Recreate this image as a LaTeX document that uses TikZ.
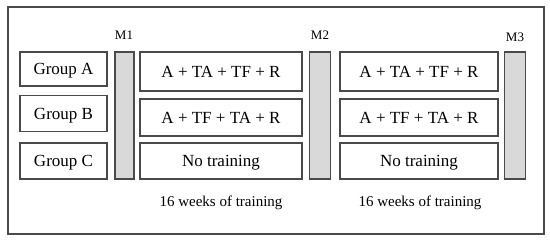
\documentclass[tikz,border=0pt]{standalone}
\usepackage{fontspec}
\setmainfont{Liberation Serif}
\usepackage{tikz}
\definecolor{cizgiGri}{HTML}{4A4A4A}
\definecolor{barGri}{HTML}{D9D9D9}
\tikzset{
  kutu/.style={draw=cizgiGri,line width=1.3pt,inner sep=0pt,text height=11.5pt,text depth=0pt,font=\fontsize{17}{20}\selectfont},
  olcum/.style={draw=cizgiGri,fill=barGri,line width=1.3pt,inner sep=0pt,minimum height=127pt},
  etiket/.style={font=\fontsize{13}{15}\selectfont},
  sure/.style={font=\fontsize{15}{18}\selectfont}
}
\begin{document}
\begin{tikzpicture}[x=1pt,y=-1pt]
\useasboundingbox (0,0) rectangle (550,240);
\draw[cizgiGri,line width=1.3pt] (8,7) rectangle (544,234);
\node[kutu,minimum width=87pt,minimum height=34pt] (grupA) at (63.5,69) {Group A};
\node[kutu,minimum width=87pt,minimum height=36pt] (grupB) at (63.5,113.5) {Group B};
\node[kutu,minimum width=87pt,minimum height=36pt] (grupC) at (63.5,161) {Group C};
\node[olcum,minimum width=19pt] (m1) at (124.5,115.5) {};
\node[olcum,minimum width=21pt] (m2) at (320,115.5) {};
\node[olcum,minimum width=21pt] (m3) at (514.7,115.5) {};
\node[etiket] (m1lbl) at (124,35) {M1};
\node[etiket] (m2lbl) at (320,35) {M2};
\node[etiket] (m3lbl) at (515,37) {M3};
\node[kutu,minimum width=162pt,minimum height=39pt] (a1) at (221,71.5) {A + TA + TF + R};
\node[kutu,minimum width=162pt,minimum height=37pt] (b1) at (221,117.5) {A + TF + TA + R};
\node[kutu,minimum width=162pt,minimum height=36pt] (c1) at (221,161) {No training};
\node[kutu,minimum width=158pt,minimum height=39pt] (a2) at (419,71.5) {A + TA + TF + R};
\node[kutu,minimum width=158pt,minimum height=37pt] (b2) at (419,117.5) {A + TF + TA + R};
\node[kutu,minimum width=158pt,minimum height=36pt] (c2) at (419,161) {No training};
\node[sure] (sure1) at (221,203) {16 weeks of training};
\node[sure] (sure2) at (420,203) {16 weeks of training};
\end{tikzpicture}
\end{document}
